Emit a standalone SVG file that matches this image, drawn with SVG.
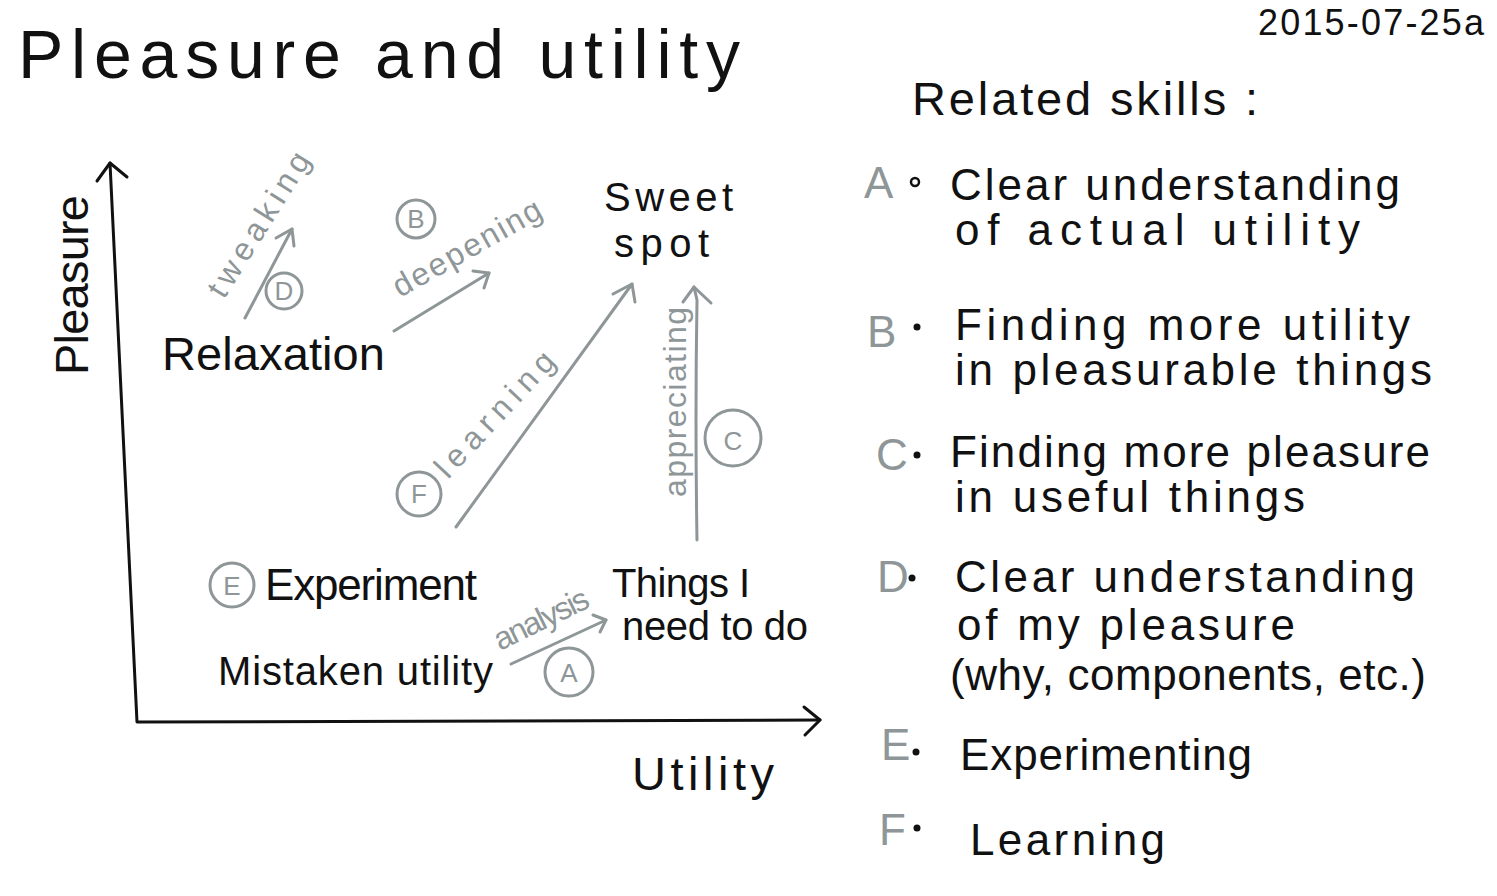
<svg xmlns="http://www.w3.org/2000/svg" width="1497" height="896" viewBox="0 0 1497 896">
<style>
  text { font-family: "Liberation Sans", "DejaVu Sans", Arial, sans-serif; fill: #111; }
  .gl { fill: none; stroke: #8e9698; stroke-width: 3; stroke-linecap: round; stroke-linejoin: round; }
  .bl { fill: none; stroke: #111; stroke-width: 3; stroke-linecap: round; stroke-linejoin: round; }
  .circ { fill: none; stroke: #8e9698; stroke-width: 3; }
  .ct { fill: #8e9698; font-size: 26px; text-anchor: middle; }
  .big { font-size: 47px; }
  .item { font-size: 44px; }
  .lbl { fill: #8e9698; font-size: 44px; }
  .gt { fill: #8e9698; font-size: 32px; }
</style>
<rect width="1497" height="896" fill="#fff"/>

<g id="title">
  <text x="18" y="78" font-size="68" textLength="722" lengthAdjust="spacing">Pleasure and utility</text>
</g>
<g id="date">
  <text x="1258" y="35" font-size="36" textLength="226" lengthAdjust="spacing">2015-07-25a</text>
</g>

<g id="axes">
  <path class="bl" d="M110,163 L137,722 L820,720"/>
  <path class="bl" d="M97,181 L110,163 L127,177"/>
  <path class="bl" d="M804,707 L820,720 L805,735"/>
  <text transform="translate(88,375) rotate(-90)" font-size="47" textLength="180" lengthAdjust="spacing">Pleasure</text>
  <text x="632" y="790" font-size="47" textLength="142" lengthAdjust="spacing">Utility</text>
</g>

<g id="relaxation">
  <text x="162" y="370" class="big" textLength="223" lengthAdjust="spacing">Relaxation</text>
</g>
<g id="sweet-spot">
  <text x="604" y="211" font-size="40" textLength="129" lengthAdjust="spacing">Sweet</text>
  <text x="614" y="257" font-size="40" textLength="95" lengthAdjust="spacing">spot</text>
</g>
<g id="experiment">
  <circle class="circ" cx="232" cy="585" r="22"/>
  <text class="ct" x="232" y="595">E</text>
  <text x="265" y="600" font-size="44" textLength="212" lengthAdjust="spacing">Experiment</text>
</g>
<g id="mistaken-utility">
  <text x="218" y="685" font-size="40" textLength="275" lengthAdjust="spacing">Mistaken utility</text>
</g>
<g id="things">
  <text x="612" y="597" font-size="40" textLength="138" lengthAdjust="spacing">Things I</text>
  <text x="622" y="640" font-size="40" textLength="186" lengthAdjust="spacing">need to do</text>
</g>

<g id="connectors">
  <g id="tweaking">
    <path class="gl" d="M245,318 L292,229"/>
    <path class="gl" d="M276,238 L292,229 L294,246"/>
    <text class="gt" transform="translate(224,300) rotate(-58)" textLength="165" lengthAdjust="spacing">tweaking</text>
    <circle class="circ" cx="284" cy="291" r="18"/>
    <text class="ct" x="284" y="300" font-size="24">D</text>
  </g>
  <g id="deepening">
    <path class="gl" d="M394,331 L489,273"/>
    <path class="gl" d="M473,271 L489,273 L484,288"/>
    <text class="gt" transform="translate(400,298) rotate(-29.5)" textLength="166" lengthAdjust="spacing">deepening</text>
    <circle class="circ" cx="416" cy="219" r="19"/>
    <text class="ct" x="416" y="228" font-size="24">B</text>
  </g>
  <g id="learning">
    <path class="gl" d="M456,527 L632,284"/>
    <path class="gl" d="M613,294 L632,284 L635,302"/>
    <text class="gt" transform="translate(448,480) rotate(-47)" font-size="34" textLength="160" lengthAdjust="spacing">learning</text>
    <circle class="circ" cx="419" cy="494" r="22"/>
    <text class="ct" x="419" y="503">F</text>
  </g>
  <g id="appreciating">
    <path class="gl" d="M697,540 Q695,420 697,300 L694,287"/>
    <path class="gl" d="M683,302 L694,287 L711,303"/>
    <text class="gt" transform="translate(686,497) rotate(-90)" font-size="30" textLength="190" lengthAdjust="spacing">appreciating</text>
    <circle class="circ" cx="733" cy="438" r="28"/>
    <text class="ct" x="733" y="450" font-size="32">C</text>
  </g>
  <g id="analysis">
    <path class="gl" d="M511,664 L606,620"/>
    <path class="gl" d="M593,615 L606,620 L600,632"/>
    <text class="gt" transform="translate(500,651) rotate(-26)" font-size="24" textLength="102" lengthAdjust="spacing">analysis</text>
    <circle class="circ" cx="569" cy="672" r="24"/>
    <text class="ct" x="569" y="682">A</text>
  </g>
</g>

<g id="related-skills">
  <text x="912" y="115" font-size="47" textLength="346" lengthAdjust="spacing">Related skills :</text>
</g>

<g id="skill-A">
  <text class="lbl" x="864" y="198">A</text>
  <circle cx="915" cy="182" r="4" fill="none" stroke="#111" stroke-width="2.5"/>
  <text class="item" x="950" y="200" textLength="450" lengthAdjust="spacing">Clear understanding</text>
  <text class="item" x="955" y="245" textLength="405" lengthAdjust="spacing">of actual utility</text>
</g>
<g id="skill-B">
  <text class="lbl" x="867" y="347">B</text>
  <circle cx="917" cy="327" r="3.5" fill="#111"/>
  <text class="item" x="955" y="340" textLength="455" lengthAdjust="spacing">Finding more utility</text>
  <text class="item" x="955" y="385" textLength="477" lengthAdjust="spacing">in pleasurable things</text>
</g>
<g id="skill-C">
  <text class="lbl" x="876" y="470" font-size="40">C</text>
  <circle cx="917" cy="455" r="3.5" fill="#111"/>
  <text class="item" x="950" y="467" textLength="480" lengthAdjust="spacing">Finding more pleasure</text>
  <text class="item" x="955" y="512" textLength="350" lengthAdjust="spacing">in useful things</text>
</g>
<g id="skill-D">
  <text class="lbl" x="877" y="592" font-size="40">D</text>
  <circle cx="912" cy="578" r="3.5" fill="#111"/>
  <text class="item" x="955" y="592" textLength="460" lengthAdjust="spacing">Clear understanding</text>
  <text class="item" x="957" y="640" textLength="338" lengthAdjust="spacing">of my pleasure</text>
  <text class="item" x="950" y="690" textLength="476" lengthAdjust="spacing">(why, components, etc.)</text>
</g>
<g id="skill-E">
  <text class="lbl" x="881" y="760" font-size="40">E</text>
  <circle cx="916" cy="752" r="3.5" fill="#111"/>
  <text class="item" x="960" y="770" font-size="46" textLength="292" lengthAdjust="spacing">Experimenting</text>
</g>
<g id="skill-F">
  <text class="lbl" x="879" y="845" font-size="44">F</text>
  <circle cx="917" cy="828" r="3.5" fill="#111"/>
  <text class="item" x="970" y="855" font-size="48" textLength="195" lengthAdjust="spacing">Learning</text>
</g>
</svg>
